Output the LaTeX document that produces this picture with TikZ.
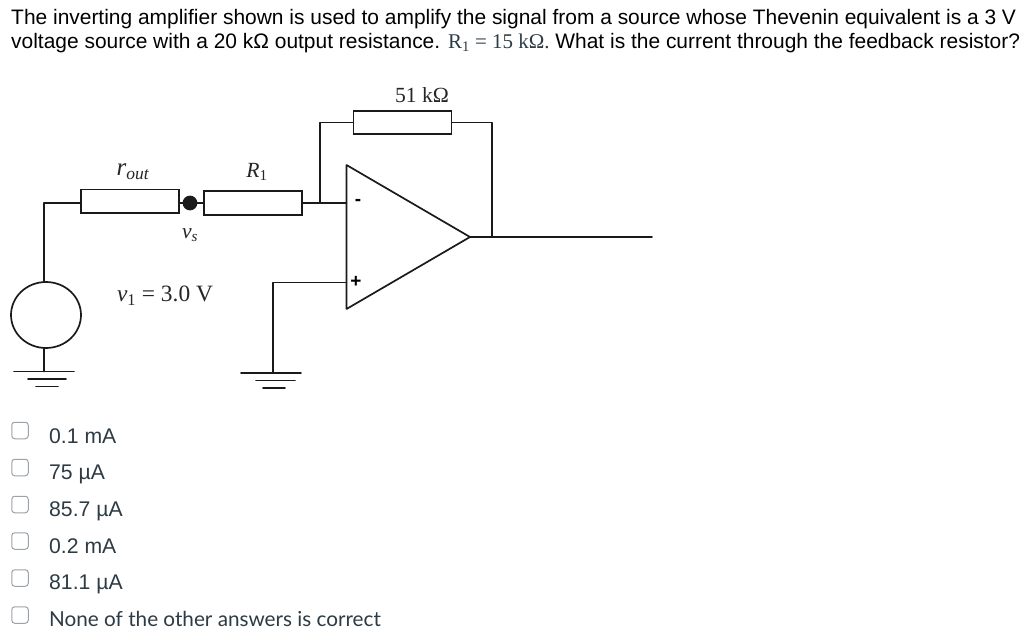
\documentclass[tikz,border=0pt]{standalone}
\usepackage{amsmath}
\usepackage{fontspec}
\usetikzlibrary{shapes.geometric}
\setmainfont{Liberation Sans}
\newfontfamily\serifface{Liberation Serif}
\newfontfamily\latoface{Lato}
\definecolor{answertext}{HTML}{2D3B45}
\definecolor{boxgray}{HTML}{9AA3A8}
\definecolor{wirecolor}{HTML}{1A1A1A}
\tikzset{
  wire/.style = {draw=wirecolor,line width=1.7pt,line cap=round,line join=round},
  resistor/.style = {draw=wirecolor,line width=1.8pt,minimum width=98pt,minimum height=23.5pt,inner sep=0pt},
  question/.style = {anchor=base west,inner sep=0pt,font=\fontsize{20.95}{24}\selectfont},
  answer/.style = {anchor=base west,inner sep=0pt,text=answertext,font=\fontsize{21.2}{24}\selectfont},
  checkbox/.style = {draw=boxgray,line width=1pt,rounded corners=3pt,minimum size=16.5pt,inner sep=0pt},
  partlabel/.style = {inner sep=0pt,text=black!85,font=\fontsize{21.6}{25}\selectfont\serifface},
  inputsign/.style = {inner sep=0pt,font=\fontsize{19}{22}\selectfont\bfseries}
}

\begin{document}
\begin{tikzpicture}[x=1pt,y=-1pt]
  \useasboundingbox[fill=white] (0,0) rectangle (1024,636);
  % question
  \node[question] (qone) at (11,24.5) {The inverting amplifier shown is used to amplify the signal from a source whose Thevenin equivalent is a 3 V};
  \node[question] (qtwo) at (11,48.5) {voltage source with a 20 kΩ output resistance. {\serifface\color{answertext}R\textsubscript{1} = 15 kΩ.} What is the current through the feedback resistor?};
  % resistors and source
  \node[resistor] (rout) at (130,201.3) {};
  \node[resistor] (rone) at (253,203) {};
  \node[resistor] (rfb) at (402.5,122.5) {};
  \node[wire,circle,fill=wirecolor,minimum size=13pt,inner sep=0pt] (vsdot) at (190,203) {};
  \node[wire,ellipse,minimum width=70pt,minimum height=66pt,inner sep=0pt] (source) at (46,315) {};
  % op amp
  \coordinate (oatop) at (346.5,165);
  \coordinate (oabot) at (346.5,309);
  \coordinate (oaout) at (470,237);
  \draw[wire] (oatop) -- (oabot) -- (oaout) -- cycle;
  \node[inputsign] (minus) at (358,202) {-};
  \node[inputsign] (plus) at (356,282) {+};
  % wiring
  \coordinate (srctop) at (44,282);
  \coordinate (srcbot) at (44,348);
  \coordinate (srccorner) at (44,203);
  \coordinate (rleft) at (81,203);
  \coordinate (routright) at (179,203);
  \coordinate (inv) at (346.5,203);
  \coordinate (fbjoin) at (320,203);
  \coordinate (fbcorner) at (320,122.5);
  \coordinate (fbright) at (492,122.5);
  \coordinate (outjoin) at (492,237);
  \coordinate (outend) at (652,237);
  \coordinate (ninv) at (346.5,282.5);
  \coordinate (gndcorner) at (273,282.5);
  \coordinate (gndb) at (273,373);
  \coordinate (gnda) at (44,371.5);
  \draw[wire] (srctop) -- (srccorner) -- (rleft);
  \draw[wire] (routright) -- (vsdot) -- (rone);
  \draw[wire] (rone) -- (inv);
  \draw[wire] (fbjoin) -- (fbcorner) -- (rfb);
  \draw[wire] (rfb) -- (fbright) -- (outjoin);
  \draw[wire] (oaout) -- (outend);
  \draw[wire] (ninv) -- (gndcorner) -- (gndb);
  \draw[wire] (srcbot) -- (gnda);
  % grounds
  \draw[wire] (14,371.5) -- (74,371.5) (28,379) -- (66,379) (36,386.5) -- (58,386.5);
  \draw[wire] (241,373) -- (301,373) (256,380.5) -- (295,380.5) (263,388) -- (285,388);
  % labels
  \node[partlabel] (lfb) at (422,95) {51 kΩ};
  \node[partlabel,font=\fontsize{25}{28}\selectfont\serifface] (lrout) at (133,172) {\itshape r\textsubscript{out}};
  \node[partlabel] (lrone) at (257,172) {\itshape R\textsubscript{\upshape 1}};
  \node[partlabel] (lvs) at (190,235) {\itshape v\textsubscript{s}};
  \node[partlabel,font=\fontsize{23.4}{27}\selectfont\serifface] (lvone) at (165,296) {{\itshape v}\textsubscript{1} = 3.0 V};
  % answers
  \foreach \ypos/\anstext [count=\i] in {443/0.1 mA,479.7/75 µA,516.4/85.7 µA,553/0.2 mA,589.7/81.1 µA}
    \node[answer] (ans\i) at (49,\ypos) {\anstext};
  \node[answer,font=\fontsize{20.7}{24}\selectfont\latoface] (ans6) at (49,626.4) {None of the other answers is correct};
  \foreach \ypos [count=\i] in {430.5,467.5,504.5,541,578,615}
    \node[checkbox] (box\i) at (20,\ypos) {};
\end{tikzpicture}
\end{document}
